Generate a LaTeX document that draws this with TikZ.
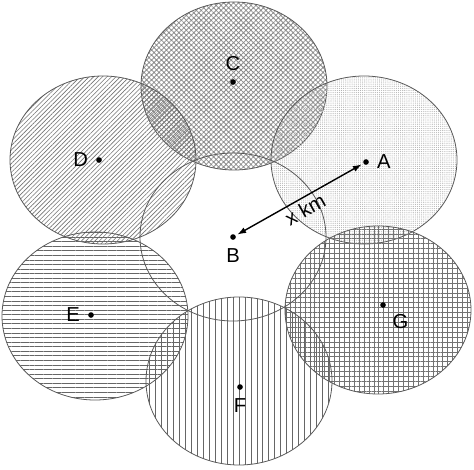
\documentclass[tikz,border=0pt]{standalone}
\usepackage{fontspec}
\setmainfont{Liberation Sans}
\usetikzlibrary{patterns.meta}
\usetikzlibrary{arrows.meta}

\tikzset{
	zone/.style={draw=black!65, line width=0.45pt},
	zoneA/.style={zone, pattern={Dots[distance=1.2pt,radius=0.33pt]}, pattern color=black!30},
	zoneB/.style={zone},
	zoneC/.style={zone, pattern={Hatch[angle=45,distance=2pt,line width=0.45pt]}, pattern color=black!45},
	zoneD/.style={zone, pattern={Lines[angle=45,distance=1.8pt,line width=0.35pt]}, pattern color=black!55},
	zoneE/.style={zone, pattern={Lines[angle=0,distance=2.6pt,line width=0.4pt]}, pattern color=black!60},
	zoneF/.style={zone, pattern={Lines[angle=90,distance=3.4pt,line width=0.4pt]}, pattern color=black!60},
	zoneG/.style={zone, pattern={Hatch[angle=0,distance=2.8pt,line width=0.4pt]}, pattern color=black!55},
	dot/.style={circle, fill, inner sep=0pt, minimum size=3.2pt},
}

\begin{document}
\begin{tikzpicture}[x=0.02cm, y=-0.02cm, >/.tip={Latex[length=5pt,width=3.5pt]}, font=\fontsize{11.5}{13}\selectfont]
\useasboundingbox (0,0) rectangle (474,470);
% cells
\foreach \x/\y/\s in {234/86/zoneC, 103/160/zoneD, 364/160/zoneA, 95/316/zoneE, 378/310/zoneG, 239/381/zoneF, 233/237/zoneB} {
	\draw[\s] (\x,\y) ellipse [x radius=93, y radius=84];
}
% stations
\node[dot, label={[label distance=1pt]right:A}] (a) at (366,162) {};
\node[dot, label={[label distance=1pt]below:B}] (b) at (233,237) {};
\node[dot, label={[label distance=1pt]above:C}] (c) at (233,82) {};
\node[dot, label={[label distance=1pt]left:D}] (d) at (99,160) {};
\node[dot, label={[label distance=1pt]left:E}] (e) at (91,315) {};
\node[dot, label={[label distance=1pt]below:F}] (f) at (240,387) {};
\node[dot, label={[label distance=1pt]below right:G}] (g) at (383,305) {};
\draw[<->, line width=0.8pt, shorten <=1pt, shorten >=1pt] (b) -- (a) node[midway, sloped, below, inner sep=2pt] {x km};
\end{tikzpicture}
\end{document}
